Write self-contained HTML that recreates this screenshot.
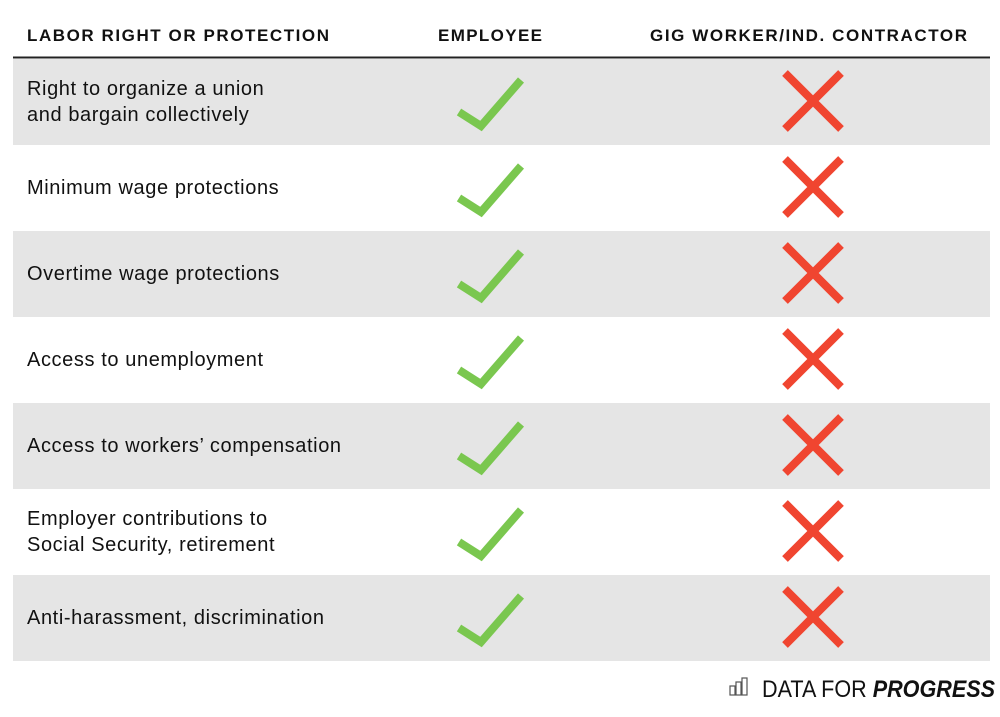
<!DOCTYPE html>
<html><head><meta charset="utf-8"><style>
body{margin:0;width:1000px;height:717px;background:#fff;overflow:hidden;font-family:"Liberation Sans",sans-serif;}
svg{display:block}
</style></head><body>
<svg width="1000" height="717">
<g id="hdr" font-weight="bold" font-size="17" fill="#111">
<text x="27" y="41" textLength="302" lengthAdjust="spacing">LABOR RIGHT OR PROTECTION</text>
<text x="438" y="41" textLength="104" lengthAdjust="spacing">EMPLOYEE</text>
<text x="650" y="41" textLength="317" lengthAdjust="spacing">GIG WORKER/IND. CONTRACTOR</text>
</g>
<rect x="13" y="56.5" width="977" height="2" fill="#222"/>
<g id="rows"></g>
<g>
<g fill="none" stroke="#555" stroke-width="1.2">
<rect x="730" y="686" width="5" height="9"/><rect x="736" y="682" width="5" height="13"/><rect x="742" y="678" width="5" height="17"/>
</g>
<text x="762" y="697" font-size="24" fill="#111" textLength="233" lengthAdjust="spacingAndGlyphs">DATA FOR <tspan font-weight="bold" font-style="italic">PROGRESS</tspan></text>
</g>
</svg>
<script>
const rowLabels=[["Right to organize a union","and bargain collectively"],["Minimum wage protections"],["Overtime wage protections"],["Access to unemployment"],["Access to workers’ compensation"],["Employer contributions to","Social Security, retirement"],["Anti-harassment, discrimination"]];
const employeeHas=[true,true,true,true,true,true,true];
const gigHas=[false,false,false,false,false,false,false];
const NS="http://www.w3.org/2000/svg";
const g=document.getElementById('rows');
function mk(t,a){const e=document.createElementNS(NS,t);for(const k in a)e.setAttribute(k,a[k]);return e;}
function mark(has,cx,cy){
  if(has) return mk('path',{d:`M${cx-31} ${cy+12} L${cx-9} ${cy+26} L${cx+31} ${cy-20}`,stroke:'#7ac74f','stroke-width':8,fill:'none'});
  return mk('path',{d:`M${cx-28} ${cy-28} L${cx+28} ${cy+28} M${cx+28} ${cy-28} L${cx-28} ${cy+28}`,stroke:'#f04530','stroke-width':8,fill:'none'});
}
rowLabels.forEach((lab,i)=>{
  const y0=59+i*86, cy=y0+43;
  const row=mk('g',{});
  
  
  const bg=mk('rect',{x:13,y:y0,width:977,height:86,fill:i%2===0?'#e5e5e5':'#fff'});
  
  
  row.appendChild(bg);
  const t=mk('text',{x:27,'font-size':20,fill:'#111','letter-spacing':0.6});
  
  
  lab.forEach((l,j)=>{const ts=mk('tspan',{x:27,y:cy+6+(lab.length===2?(j===0?-13:13):0)});ts.textContent=l;t.appendChild(ts);});
  row.appendChild(t);
  const m1=mark(employeeHas[i],490,cy-2);
  
  
  row.appendChild(m1);
  const m2=mark(gigHas[i],813,cy-1);
  
  
  row.appendChild(m2);
  g.appendChild(row);
});
</script>
</body></html>
